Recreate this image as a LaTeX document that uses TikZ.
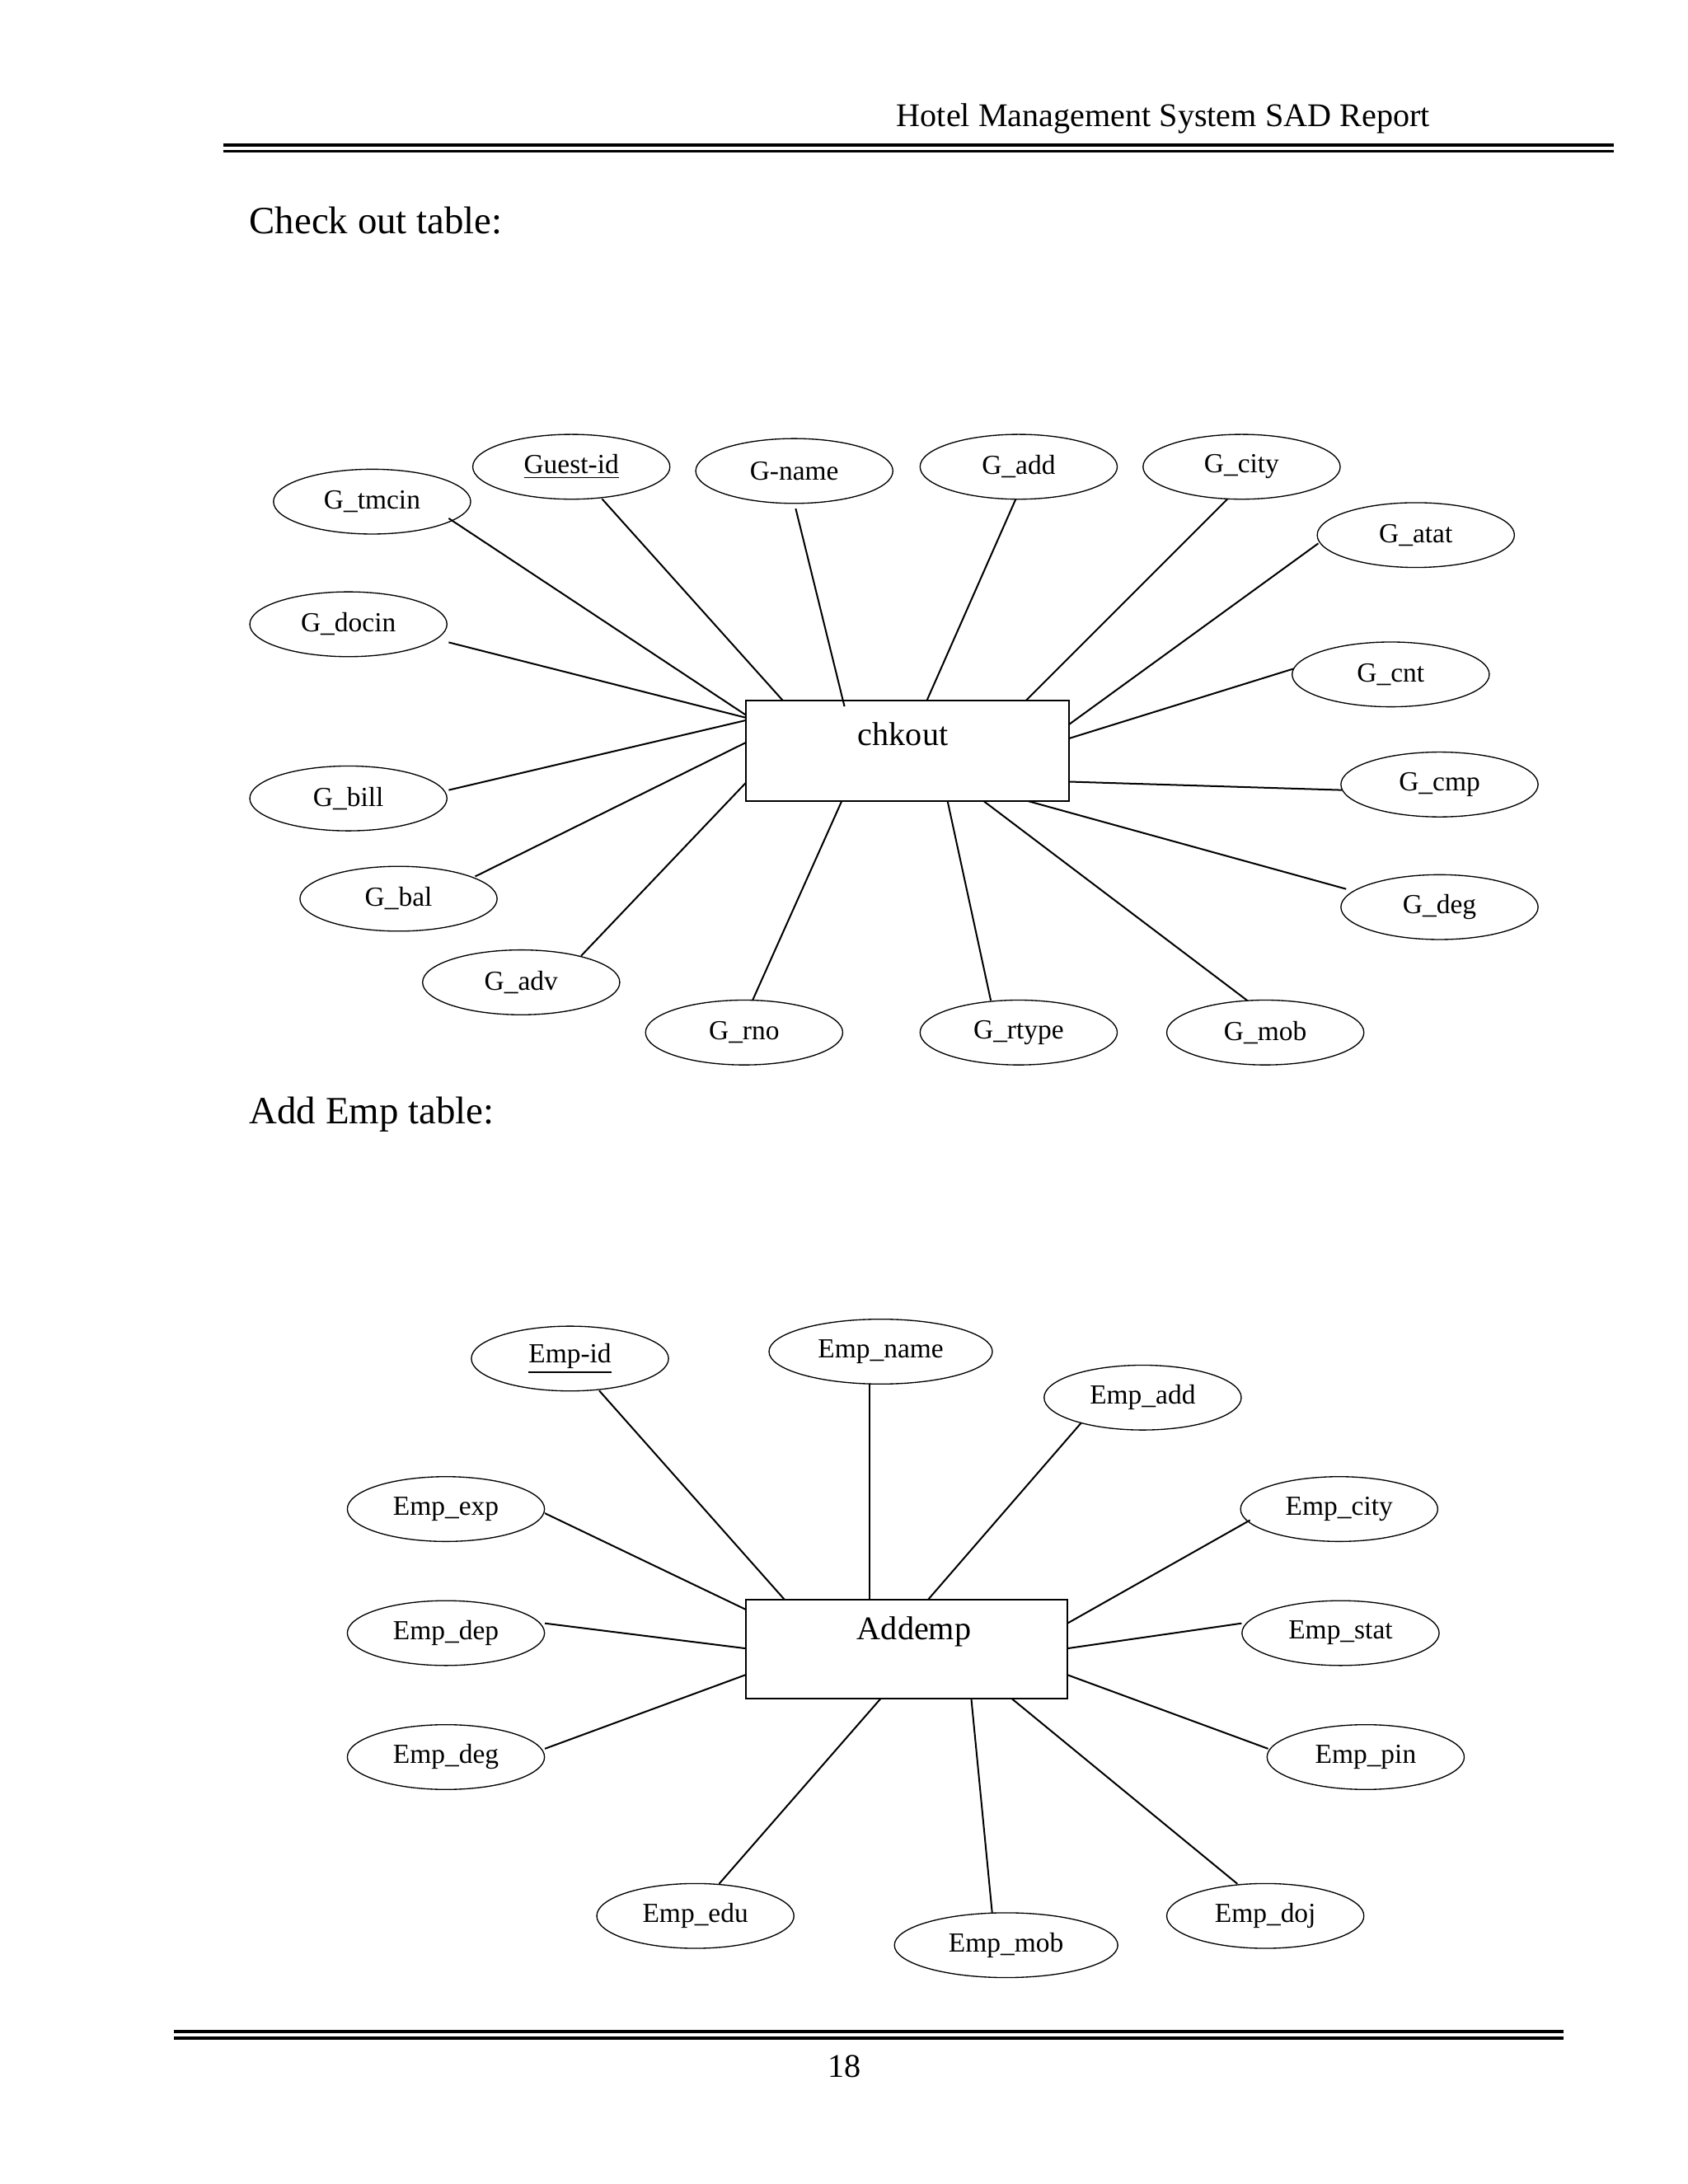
\documentclass[tikz,border=0pt]{standalone}
\usepackage{fontspec}
\setmainfont{Liberation Serif}
\usetikzlibrary{shapes.geometric}
\begin{document}
\begin{tikzpicture}[x=0.5053pt,y=-0.5053pt,
  attr/.style={draw,ellipse,minimum width=71.5pt,minimum height=23.5pt,inner sep=0pt,font=\fontsize{10}{12}\selectfont},
  wide/.style={attr,minimum width=81pt},
  link/.style={draw,line width=0.6pt}]
\useasboundingbox (0,0) rectangle (1211.2,1567.4);
\node[anchor=east,font=\fontsize{12}{14}\selectfont] (hdr) at (1033,85) {Hotel Management System SAD Report};
\draw[line width=1.1pt] (160,104) -- (1158,104);
\draw[line width=1.1pt] (160,108.5) -- (1158,108.5);
\draw[line width=1.1pt] (125,1458) -- (1122,1458);
\draw[line width=1.1pt] (125,1462.5) -- (1122,1462.5);
\node[font=\fontsize{12}{14}\selectfont] (pg) at (606,1483) {18};
\node[anchor=west,font=\fontsize{14}{16}\selectfont] (h1) at (172,158) {Check out table:};
\node[anchor=west,font=\fontsize{14}{16}\selectfont] (h2) at (172,800) {Add Emp table:};
% checkout
\draw[line width=0.6pt] (535,503) rectangle (767,575);
\node[font=\fontsize{12}{14}\selectfont] (chk) at (648,527) {chkout};
\node[attr] (a1) at (410,335) {\underline{Guest-id}};
\node[attr] (a2) at (570,338) {G-name};
\node[attr] (a3) at (731,335) {G\_add};
\node[attr] (a4) at (891,335) {G\_city};
\node[attr] (a5) at (267,360) {G\_tmcin};
\node[attr] (a6) at (1016,384) {G\_atat};
\node[attr] (a7) at (250,448) {G\_docin};
\node[attr] (a8) at (998,484) {G\_cnt};
\node[attr] (a9) at (1033,563) {G\_cmp};
\node[attr] (a10) at (250,573) {G\_bill};
\node[attr] (a11) at (286,645) {G\_bal};
\node[attr] (a12) at (1033,651) {G\_deg};
\node[attr] (a13) at (374,705) {G\_adv};
\node[attr] (a14) at (534,741) {G\_rno};
\node[attr] (a15) at (731,741) {G\_rtype};
\node[attr] (a16) at (908,741) {G\_mob};
\draw[link] (322,372) -- (535,513);
\draw[link] (432,358) -- (562,503);
\draw[link] (571,365) -- (606,507);
\draw[link] (729,358) -- (665,503);
\draw[link] (881,358) -- (736,503);
\draw[link] (946,390) -- (767,520);
\draw[link] (322,461) -- (535,515);
\draw[link] (928,480) -- (767,530);
\draw[link] (963,567) -- (767,561);
\draw[link] (322,567) -- (535,517);
\draw[link] (341,629) -- (535,533);
\draw[link] (966,638) -- (738,575);
\draw[link] (417,686) -- (535,562);
\draw[link] (540,718) -- (604,575);
\draw[link] (711,718) -- (680,575);
\draw[link] (895,718) -- (706,575);
% add emp
\draw[line width=0.6pt] (535,1148) rectangle (766,1219);
\node[font=\fontsize{12}{14}\selectfont] (emp) at (656,1171) {Addemp};
\node[attr] (e1) at (409,975) {\underline{Emp-id}};
\node[wide] (e2) at (632,970) {Emp\_name};
\node[attr] (e3) at (820,1003) {Emp\_add};
\node[attr] (e4) at (320,1083) {Emp\_exp};
\node[attr] (e5) at (961,1083) {Emp\_city};
\node[attr] (e6) at (320,1172) {Emp\_dep};
\node[attr] (e7) at (962,1172) {Emp\_stat};
\node[attr] (e8) at (320,1261) {Emp\_deg};
\node[attr] (e9) at (980,1261) {Emp\_pin};
\node[attr] (e10) at (499,1375) {Emp\_edu};
\node[wide] (e11) at (722,1396) {Emp\_mob};
\node[attr] (e12) at (908,1375) {Emp\_doj};
\draw[link] (430,998) -- (563,1148);
\draw[link] (624,993) -- (624,1148);
\draw[link] (776,1021) -- (666,1148);
\draw[link] (391,1086) -- (535,1155);
\draw[link] (897,1091) -- (766,1165);
\draw[link] (391,1165) -- (535,1183);
\draw[link] (891,1165) -- (766,1183);
\draw[link] (391,1255) -- (535,1202);
\draw[link] (910,1255) -- (766,1202);
\draw[link] (516,1352) -- (632,1219);
\draw[link] (712,1373) -- (697,1219);
\draw[link] (888,1352) -- (726,1219);
\end{tikzpicture}
\end{document}
